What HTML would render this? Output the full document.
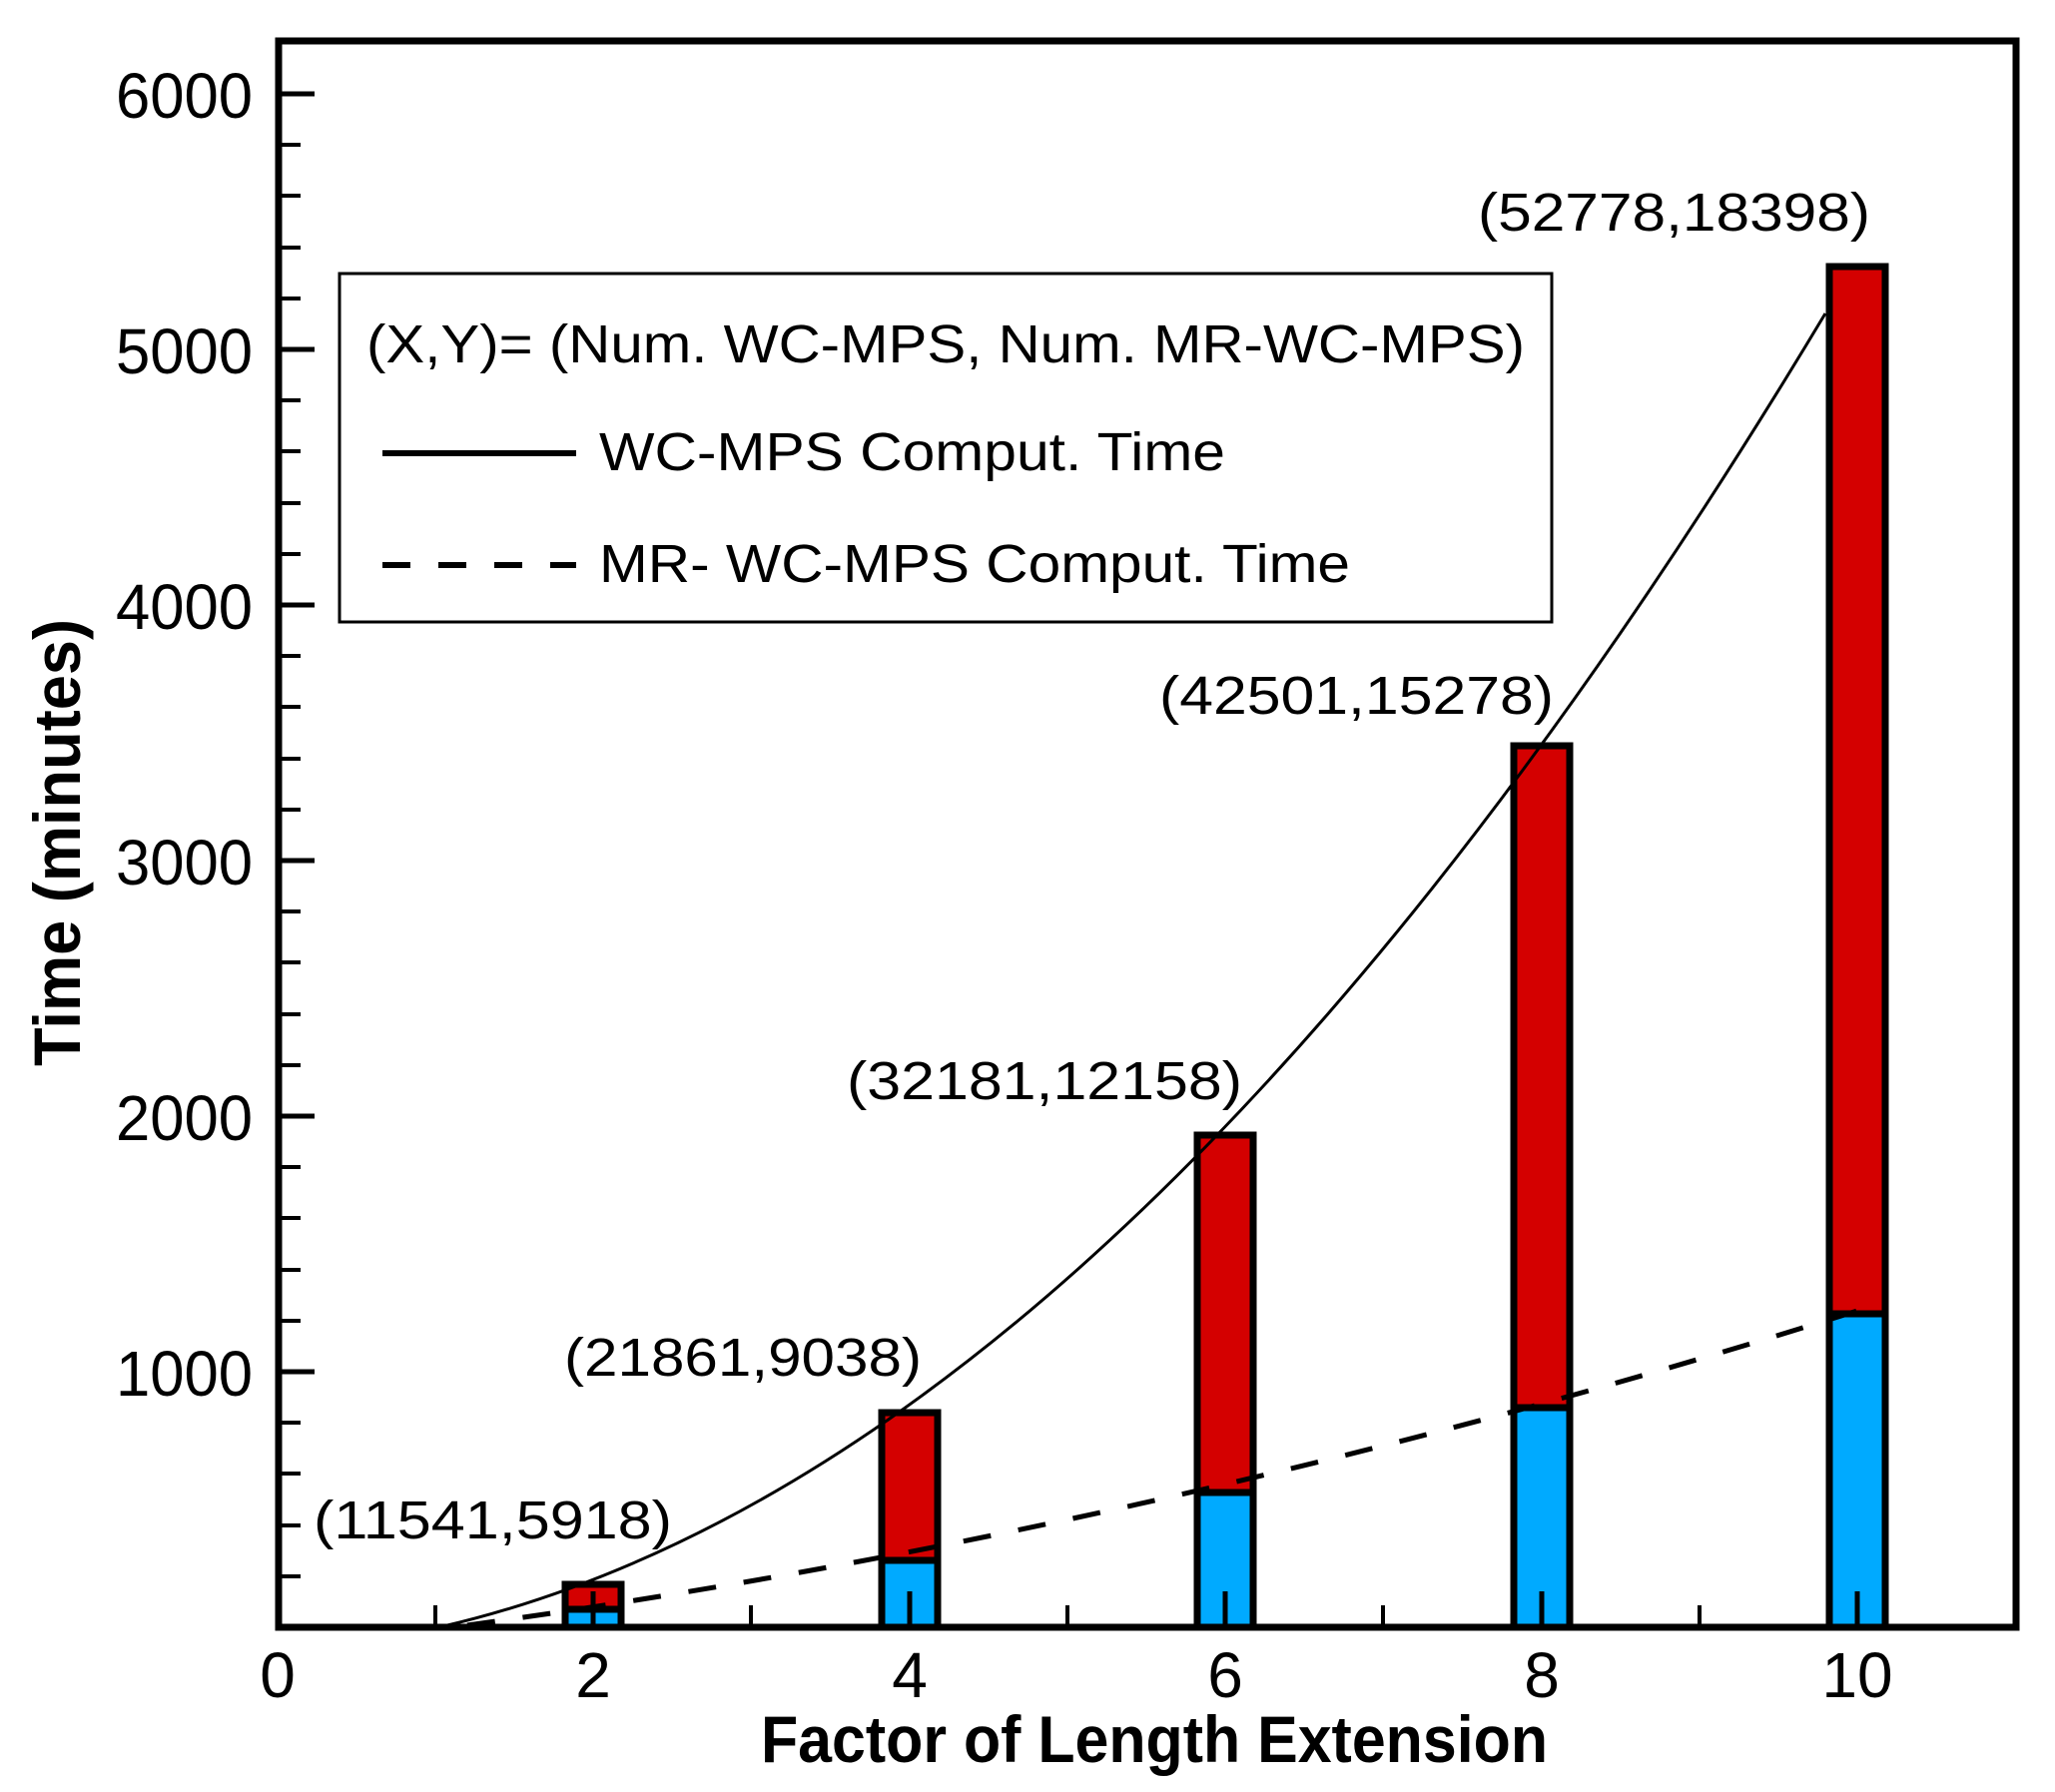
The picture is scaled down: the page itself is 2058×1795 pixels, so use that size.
<!DOCTYPE html>
<html><head><meta charset="utf-8"><style>
html,body{margin:0;padding:0;background:#fff}
svg{display:block}
text{font-family:"Liberation Sans",Arial,sans-serif;fill:#000}
</style></head><body>
<svg width="2058" height="1795" viewBox="0 0 2058 1795" xmlns="http://www.w3.org/2000/svg">
<g stroke="#000" stroke-width="7">
  <rect x="566" y="1587" width="56" height="43" fill="#d40000"/>
  <rect x="566" y="1612" width="56" height="18" fill="#00aaff"/>
  <rect x="883" y="1415" width="56" height="215" fill="#d40000"/>
  <rect x="883" y="1563" width="56" height="67" fill="#00aaff"/>
  <rect x="1199" y="1137" width="56" height="493" fill="#d40000"/>
  <rect x="1199" y="1495" width="56" height="135" fill="#00aaff"/>
  <rect x="1516" y="747" width="56" height="883" fill="#d40000"/>
  <rect x="1516" y="1410" width="56" height="220" fill="#00aaff"/>
  <rect x="1832" y="267" width="56" height="1363" fill="#d40000"/>
  <rect x="1832" y="1316" width="56" height="314" fill="#00aaff"/>
</g>
<path d="M444,1629 Q1136,1467 1828,314" fill="none" stroke="#000" stroke-width="3"/>
<path d="M468,1628 Q1164,1532 1860,1313" fill="none" stroke="#000" stroke-width="5" stroke-dasharray="28,28"/>
<rect x="279" y="41" width="1740" height="1589" fill="none" stroke="#000" stroke-width="7"/>
<g stroke="#000" stroke-width="5">
  <line x1="279" y1="1630" x2="315" y2="1630"/>
  <line x1="279" y1="1374" x2="315" y2="1374"/>
  <line x1="279" y1="1118" x2="315" y2="1118"/>
  <line x1="279" y1="862" x2="315" y2="862"/>
  <line x1="279" y1="606" x2="315" y2="606"/>
  <line x1="279" y1="350" x2="315" y2="350"/>
  <line x1="279" y1="94" x2="315" y2="94"/>
</g>
<g stroke="#000" stroke-width="4">
  <line x1="279" y1="1579" x2="301" y2="1579"/><line x1="279" y1="1528" x2="301" y2="1528"/><line x1="279" y1="1476" x2="301" y2="1476"/><line x1="279" y1="1425" x2="301" y2="1425"/>
  <line x1="279" y1="1323" x2="301" y2="1323"/><line x1="279" y1="1272" x2="301" y2="1272"/><line x1="279" y1="1220" x2="301" y2="1220"/><line x1="279" y1="1169" x2="301" y2="1169"/>
  <line x1="279" y1="1067" x2="301" y2="1067"/><line x1="279" y1="1016" x2="301" y2="1016"/><line x1="279" y1="964" x2="301" y2="964"/><line x1="279" y1="913" x2="301" y2="913"/>
  <line x1="279" y1="811" x2="301" y2="811"/><line x1="279" y1="760" x2="301" y2="760"/><line x1="279" y1="708" x2="301" y2="708"/><line x1="279" y1="657" x2="301" y2="657"/>
  <line x1="279" y1="555" x2="301" y2="555"/><line x1="279" y1="504" x2="301" y2="504"/><line x1="279" y1="452" x2="301" y2="452"/><line x1="279" y1="401" x2="301" y2="401"/>
  <line x1="279" y1="299" x2="301" y2="299"/><line x1="279" y1="248" x2="301" y2="248"/><line x1="279" y1="196" x2="301" y2="196"/><line x1="279" y1="145" x2="301" y2="145"/>
</g>
<g stroke="#000" stroke-width="5">
  <line x1="594" y1="1630" x2="594" y2="1594"/><line x1="911" y1="1630" x2="911" y2="1594"/>
  <line x1="1227" y1="1630" x2="1227" y2="1594"/><line x1="1544" y1="1630" x2="1544" y2="1594"/>
  <line x1="1860" y1="1630" x2="1860" y2="1594"/>
</g>
<g stroke="#000" stroke-width="4">
  <line x1="436" y1="1630" x2="436" y2="1608"/><line x1="752" y1="1630" x2="752" y2="1608"/>
  <line x1="1069" y1="1630" x2="1069" y2="1608"/><line x1="1385" y1="1630" x2="1385" y2="1608"/>
  <line x1="1702" y1="1630" x2="1702" y2="1608"/>
</g>
<g font-size="64" text-anchor="end">
  <text x="253" y="1398" textLength="137" lengthAdjust="spacingAndGlyphs">1000</text>
  <text x="253" y="1142" textLength="137" lengthAdjust="spacingAndGlyphs">2000</text>
  <text x="253" y="886" textLength="137" lengthAdjust="spacingAndGlyphs">3000</text>
  <text x="253" y="630" textLength="137" lengthAdjust="spacingAndGlyphs">4000</text>
  <text x="253" y="374" textLength="137" lengthAdjust="spacingAndGlyphs">5000</text>
  <text x="253" y="118" textLength="137" lengthAdjust="spacingAndGlyphs">6000</text>
</g>
<g font-size="64" text-anchor="middle">
  <text x="278" y="1700">0</text>
  <text x="594" y="1700">2</text>
  <text x="911" y="1700">4</text>
  <text x="1227" y="1700">6</text>
  <text x="1544" y="1700">8</text>
  <text x="1860" y="1700">10</text>
</g>
<text x="762" y="1765" font-size="66" font-weight="bold" textLength="788" lengthAdjust="spacingAndGlyphs">Factor of Length Extension</text>
<text transform="translate(80,1068) rotate(-90)" font-size="66" font-weight="bold" textLength="448" lengthAdjust="spacingAndGlyphs">Time (minutes)</text>
<g font-size="54">
  <text x="314" y="1541" textLength="359" lengthAdjust="spacingAndGlyphs">(11541,5918)</text>
  <text x="565" y="1378" textLength="358" lengthAdjust="spacingAndGlyphs">(21861,9038)</text>
  <text x="848" y="1101" textLength="396" lengthAdjust="spacingAndGlyphs">(32181,12158)</text>
  <text x="1161" y="715" textLength="395" lengthAdjust="spacingAndGlyphs">(42501,15278)</text>
  <text x="1480" y="231" textLength="393" lengthAdjust="spacingAndGlyphs">(52778,18398)</text>
</g>
<rect x="340" y="274" width="1214" height="349" fill="#fff" stroke="#000" stroke-width="3"/>
<g font-size="54">
  <text x="367" y="363" textLength="1160" lengthAdjust="spacingAndGlyphs">(X,Y)= (Num. WC-MPS, Num. MR-WC-MPS)</text>
  <text x="600" y="471" textLength="627" lengthAdjust="spacingAndGlyphs">WC-MPS Comput. Time</text>
  <text x="600" y="583" textLength="752" lengthAdjust="spacingAndGlyphs">MR- WC-MPS Comput. Time</text>
</g>
<line x1="383" y1="454" x2="577" y2="454" stroke="#000" stroke-width="6"/>
<line x1="383" y1="566" x2="577" y2="566" stroke="#000" stroke-width="6" stroke-dasharray="28,28"/>
</svg>
</body></html>
